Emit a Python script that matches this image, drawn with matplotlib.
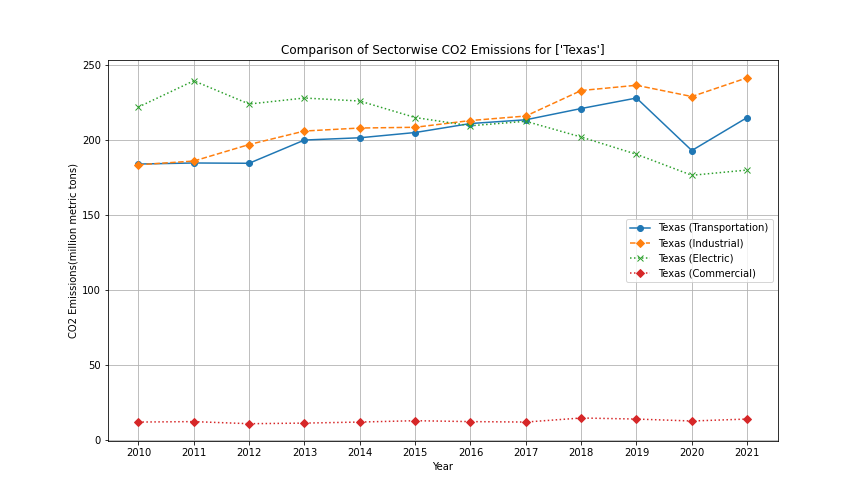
import matplotlib
matplotlib.use("Agg")
import matplotlib.pyplot as plt

years = [2010, 2011, 2012, 2013, 2014, 2015, 2016, 2017, 2018, 2019, 2020, 2021]
transportation = [184.0, 184.7, 184.5, 200.0, 201.5, 205.0, 211.0, 213.5, 221.0, 228.0, 193.0, 215.0]
industrial = [183.5, 186.0, 197.0, 206.0, 208.0, 208.5, 213.0, 216.0, 233.0, 236.5, 229.0, 241.5]
electric = [222.0, 239.5, 224.0, 228.0, 226.0, 215.0, 209.5, 212.5, 202.0, 190.5, 176.5, 180.0]
commercial = [12.0, 12.3, 10.9, 11.3, 12.0, 12.9, 12.3, 12.0, 14.7, 14.0, 12.7, 14.0]

fig, ax = plt.subplots(figsize=(12, 7), dpi=72)
fig.subplots_adjust(bottom=0.125)
ax.plot(years, transportation, marker='o', linestyle='-', label='Texas (Transportation)')
ax.plot(years, industrial, marker='D', linestyle='--', label='Texas (Industrial)')
ax.plot(years, electric, marker='x', linestyle=':', label='Texas (Electric)')
ax.plot(years, commercial, marker='D', linestyle=':', label='Texas (Commercial)')

ax.set_xticks(years)
ax.set_xlabel('Year')
ax.set_ylabel('CO2 Emissions(million metric tons)')
ax.set_title("Comparison of Sectorwise CO2 Emissions for ['Texas']")
ax.grid(True)
ax.legend(loc='center right')

plt.savefig('out.png')
